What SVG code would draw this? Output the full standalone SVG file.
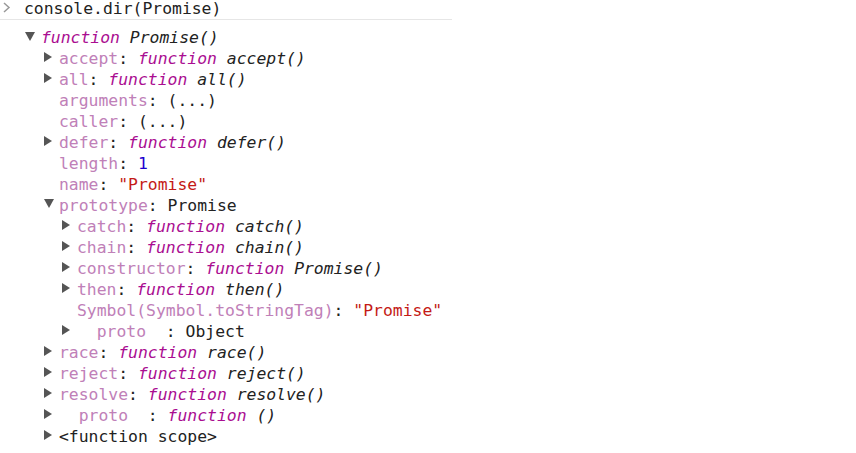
<svg xmlns="http://www.w3.org/2000/svg" width="856" height="453" viewBox="0 0 856 453">
<style>
text{font-family:"DejaVu Sans Mono","Liberation Mono",monospace;font-size:16.4px;fill:#222;white-space:pre}
.k{fill:#c080b8}.f{fill:#aa0d91;font-style:italic}.i{font-style:italic}.s{fill:#c41a16}.n{fill:#1c00cf}
.t{fill:#555}
</style>
<rect width="856" height="453" fill="#fff"/>
<line x1="0" y1="19.5" x2="452" y2="19.5" stroke="#e6e6e6"/>
<path d="M4 3 L9 7.5 L4 12" fill="none" stroke="#999" stroke-width="1.5"/>
<text x="24" y="14">console.dir(Promise)</text>
<g class="t">
<path d="M25 32 L35 32 L30 41 Z"/>
<path d="M44 52 L52 57 L44 62 Z"/><path d="M44 73 L52 78 L44 83 Z"/>
<path d="M44 136 L52 141 L44 146 Z"/>
<path d="M44 199 L54 199 L49 208 Z"/>
<path d="M62 220 L70 225 L62 230 Z"/><path d="M62 241 L70 246 L62 251 Z"/>
<path d="M62 262 L70 267 L62 272 Z"/><path d="M62 283 L70 288 L62 293 Z"/>
<path d="M62 325 L70 330 L62 335 Z"/>
<path d="M44 346 L52 351 L44 356 Z"/><path d="M44 367 L52 372 L44 377 Z"/>
<path d="M44 388 L52 393 L44 398 Z"/><path d="M44 409 L52 414 L44 419 Z"/>
<path d="M44 430 L52 435 L44 440 Z"/>
</g>
<text x="41" y="43"><tspan class="f">function</tspan><tspan class="i"> Promise()</tspan></text>
<text x="59" y="64"><tspan class="k">accept</tspan>: <tspan class="f">function</tspan><tspan class="i"> accept()</tspan></text>
<text x="59" y="85"><tspan class="k">all</tspan>: <tspan class="f">function</tspan><tspan class="i"> all()</tspan></text>
<text x="59" y="106"><tspan class="k">arguments</tspan>: (...)</text>
<text x="59" y="127"><tspan class="k">caller</tspan>: (...)</text>
<text x="59" y="148"><tspan class="k">defer</tspan>: <tspan class="f">function</tspan><tspan class="i"> defer()</tspan></text>
<text x="59" y="169"><tspan class="k">length</tspan>: <tspan class="n">1</tspan></text>
<text x="59" y="190"><tspan class="k">name</tspan>: <tspan class="s">"Promise"</tspan></text>
<text x="59" y="211"><tspan class="k">prototype</tspan>: Promise</text>
<text x="77" y="232"><tspan class="k">catch</tspan>: <tspan class="f">function</tspan><tspan class="i"> catch()</tspan></text>
<text x="77" y="253"><tspan class="k">chain</tspan>: <tspan class="f">function</tspan><tspan class="i"> chain()</tspan></text>
<text x="77" y="274"><tspan class="k">constructor</tspan>: <tspan class="f">function</tspan><tspan class="i"> Promise()</tspan></text>
<text x="77" y="295"><tspan class="k">then</tspan>: <tspan class="f">function</tspan><tspan class="i"> then()</tspan></text>
<text x="77" y="316"><tspan class="k">Symbol(Symbol.toStringTag)</tspan>: <tspan class="s">"Promise"</tspan></text>
<text x="77" y="337"><tspan class="k">  proto  </tspan>: Object</text>
<text x="59" y="358"><tspan class="k">race</tspan>: <tspan class="f">function</tspan><tspan class="i"> race()</tspan></text>
<text x="59" y="379"><tspan class="k">reject</tspan>: <tspan class="f">function</tspan><tspan class="i"> reject()</tspan></text>
<text x="59" y="400"><tspan class="k">resolve</tspan>: <tspan class="f">function</tspan><tspan class="i"> resolve()</tspan></text>
<text x="59" y="421"><tspan class="k">  proto  </tspan>: <tspan class="f">function</tspan><tspan class="i"> ()</tspan></text>
<text x="59" y="442">&lt;function scope&gt;</text>
</svg>
